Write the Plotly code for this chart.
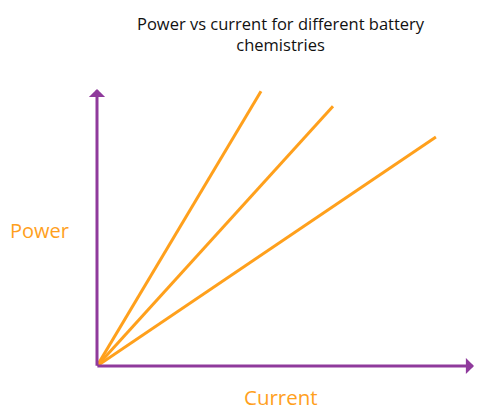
import plotly.graph_objects as go

# Data (arbitrary units)
series_names = ["Chemistry A", "Chemistry B", "Chemistry C"]
current_end = [4.35, 6.26, 8.99]
power_end = [10.0, 9.45, 8.33]
axis_max_x = 10
axis_max_y = 10.08

ORANGE = "#FFA01C"
PURPLE = "#8F3A9C"
FONT = "Open Sans"

fig = go.Figure()
for name, cx, py in zip(series_names, current_end, power_end):
    fig.add_trace(go.Scatter(x=[0, cx], y=[0, py], mode="lines", name=name,
                             line=dict(color=ORANGE, width=3), showlegend=False))

OFF = 8  # page body margin
W, H = 484, 403
l, t = 97 - OFF, 89 - OFF
r = W - (474 - OFF)
b = H - (366 - OFF)
fig.update_layout(
    width=W, height=H,
    margin=dict(l=l, r=r, t=t, b=b),
    plot_bgcolor="white", paper_bgcolor="white",
    xaxis=dict(range=[0, axis_max_x], visible=False),
    yaxis=dict(range=[0, axis_max_y], visible=False),
)

# axes with arrows
fig.add_annotation(x=axis_max_x, y=0, ax=-0.03, ay=0, xref="x", yref="y", axref="x", ayref="y",
                   showarrow=True, arrowhead=1, arrowsize=0.9, arrowwidth=3, arrowcolor=PURPLE, text="")
fig.add_annotation(x=0, y=axis_max_y, ax=0, ay=-0.05, xref="x", yref="y", axref="x", ayref="y",
                   showarrow=True, arrowhead=1, arrowsize=0.9, arrowwidth=3, arrowcolor=PURPLE, text="")

PW, PH = W - l - r, H - t - b

def fx(xp):
    return (xp - OFF - l) / PW

def fy(yp):
    return 1 - (yp - OFF - t) / PH

fig.add_annotation(text="Power vs current for different battery<br>chemistries",
                   xref="paper", yref="paper", x=fx(281), y=fy(34),
                   xanchor="center", yanchor="middle", showarrow=False,
                   font=dict(family=FONT, size=16.5, color="#111111"))
fig.add_annotation(text="Power", xref="paper", yref="paper",
                   x=fx(39), y=fy(230),
                   xanchor="center", yanchor="middle", showarrow=False,
                   font=dict(family=FONT, size=20, color=ORANGE))
fig.add_annotation(text="Current", xref="paper", yref="paper",
                   x=fx(281), y=fy(397),
                   xanchor="center", yanchor="middle", showarrow=False,
                   font=dict(family=FONT, size=20.5, color=ORANGE))

fig.write_html("out.html")
